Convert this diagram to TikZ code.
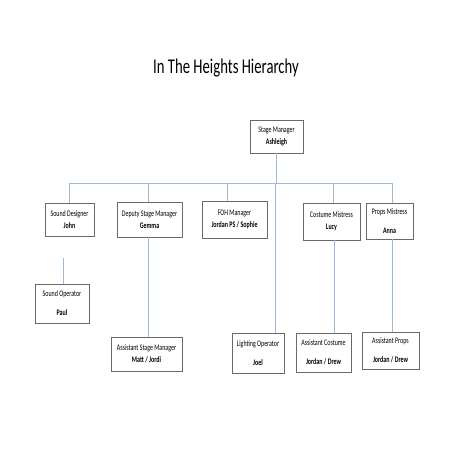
\documentclass[tikz,border=0pt]{standalone}
\usepackage{fontspec}
\setmainfont{Carlito}
\newfontfamily\chartfont[FakeStretch=0.7]{Carlito}
\definecolor{linkblue}{RGB}{160,185,212}
\definecolor{boxgray}{RGB}{105,105,105}
\tikzset{
  rolebox/.style={draw=boxgray, line width=0.6pt, fill=white, rectangle,
    inner sep=0pt, align=center, font=\chartfont\fontsize{8.5}{10}\selectfont},
  link/.style={draw=linkblue, line width=0.7pt}
}
\begin{document}
\begin{tikzpicture}[x=1pt, y=-1pt]
            % ==== FRAME ====
            \useasboundingbox (0,0) rectangle (453,453);

            % ==== TITLE ====
            \node[font=\chartfont\fontsize{21}{24}\selectfont] (title) at (226,68) {In The Heights Hierarchy};

            % ==== TOP ====
            \node[rolebox, minimum width=53pt, minimum height=33pt] (sm) at (276.5,136.5) {Stage Manager\\[2pt]\textbf{Ashleigh}};

            % ==== SECOND ROW ====
            \node[rolebox, minimum width=49pt, minimum height=33pt] (sd) at (69.5,219.5) {Sound Designer\\[2pt]\textbf{John}};
            \node[rolebox, minimum width=65pt, minimum height=35pt] (dsm) at (149.5,219.5) {Deputy Stage Manager\\[2pt]\textbf{Gemma}};
            \node[rolebox, minimum width=65pt, minimum height=37pt] (foh) at (234.5,219.5) {FOH Manager\\[2pt]\textbf{Jordan PS / Sophie}};
            \node[rolebox, minimum width=57pt, minimum height=37pt] (cm) at (331.5,221.5) {Costume Mistress\\[2pt]\textbf{Lucy}};
            \node[rolebox, minimum width=47pt, minimum height=36pt] (pm) at (389.5,221) {Props Mistress\\[9pt]\textbf{Anna}};

            % ==== THIRD ROW ====
            \node[rolebox, minimum width=54pt, minimum height=39pt] (so) at (62,303.5) {Sound Operator\\[9pt]\textbf{Paul}};
            \node[rolebox, minimum width=71pt, minimum height=34pt] (asm) at (146.5,354) {Assistant Stage Manager\\[2pt]\textbf{Matt / Jordi}};
            \node[rolebox, minimum width=52pt, minimum height=40pt] (lo) at (258,353) {Lighting Operator\\[9pt]\textbf{Joel}};
            \node[rolebox, minimum width=55pt, minimum height=39pt] (ac) at (323.5,352.5) {Assistant Costume\\[9pt]\textbf{Jordan / Drew}};
            \node[rolebox, minimum width=57pt, minimum height=37pt] (ap) at (390.5,350.5) {Assistant Props\\[9pt]\textbf{Jordan / Drew}};

            % ==== BUS ====
            \coordinate (busL) at (69,183);
            \coordinate (busR) at (392,183);
            \coordinate (tdsm) at (148,183);
            \coordinate (tfoh) at (227,183);
            \coordinate (tlo) at (275,183);
            \coordinate (tcm) at (333,183);
            \coordinate (tso) at (63,258);
            \coordinate (bcm) at (334.5,240);

            \draw[link] (busL) -- (busR);
            \draw[link] (sm.south) -- (sm.south |- busL);
            \draw[link] (busL) -- (busL |- sd.north);
            \draw[link] (tdsm) -- (tdsm |- dsm.north);
            \draw[link] (tfoh) -- (tfoh |- foh.north);
            \draw[link] (tcm) -- (tcm |- cm.north);
            \draw[link] (busR) -- (busR |- pm.north);

            % ==== LOWER LINKS ====
            \draw[link] (tso) -- (tso |- so.north);
            \draw[link] (tdsm |- dsm.south) -- (tdsm |- asm.north);
            \draw[link] (tlo) -- (tlo |- lo.north);
            \draw[link] (bcm) -- (bcm |- ac.north);
            \draw[link] (busR |- pm.south) -- (busR |- ap.north);

        \end{tikzpicture}
\end{document}
